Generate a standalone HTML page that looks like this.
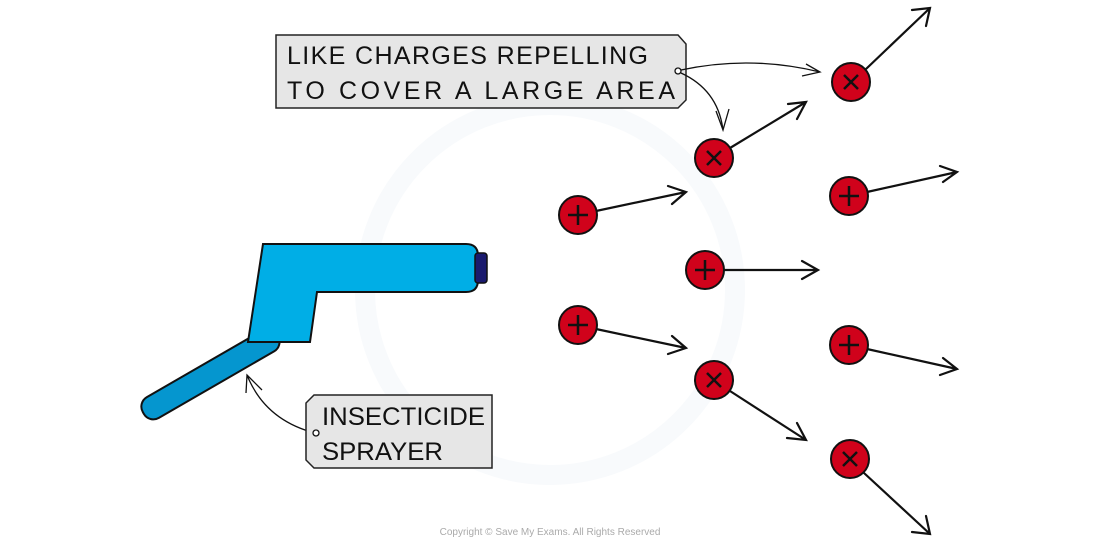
<!DOCTYPE html>
<html><head><meta charset="utf-8"><style>
html,body{margin:0;padding:0;background:#fff;}
svg{display:block;}
text{font-family:"Liberation Sans",sans-serif;}
</style></head><body>
<svg width="1100" height="542" viewBox="0 0 1100 542" xmlns="http://www.w3.org/2000/svg">
<defs>
<g id="pl"><circle r="19" fill="#d0021b" stroke="#111" stroke-width="2"/><path d="M-10 0H10M0 -10V10" stroke="#111" stroke-width="2.5"/></g>
<g id="cr"><circle r="19" fill="#d0021b" stroke="#111" stroke-width="2"/><path d="M-7 -7L7 7M7 -7L-7 7" stroke="#111" stroke-width="2.5"/></g>
</defs>
<!-- watermark -->
<circle cx="550" cy="290" r="185" fill="none" stroke="#f8fafc" stroke-width="20"/>
<!-- sprayer handle -->
<g transform="translate(152,408) rotate(-30)">
<rect x="-10" y="-12" width="155" height="24" rx="11" fill="#0596cf" stroke="#111" stroke-width="2"/>
</g>
<path d="M263 244 L466 244 Q478 244 478 256 L478 280 Q478 292 466 292 L317 292 L310 342 L248 342 Z" fill="#00aee6" stroke="#111" stroke-width="2"/>
<rect x="475" y="253" width="12" height="30" rx="3" fill="#1a1a6e" stroke="#111" stroke-width="1.5"/>
<!-- arrows -->
<g stroke="#111" stroke-width="2.2" fill="none" stroke-linecap="round">
<path d="M596 211 L686 192 M668 186 L686 192 L672 204"/>
<path d="M730 148 L806 102 M788 104 L806 102 L797 119"/>
<path d="M866 69 L930 8 M912 10 L930 8 L926 26"/>
<path d="M867 192 L957 172 M940 166 L957 172 L943 182"/>
<path d="M724 270 L818 270 M802 261 L818 270 L802 279"/>
<path d="M596 329 L686 348 M672 336 L686 348 L668 354"/>
<path d="M730 391 L806 440 M797 423 L806 440 L787 438"/>
<path d="M867 349 L957 369 M943 358 L957 369 L940 375"/>
<path d="M864 473 L930 534 M926 516 L930 534 L912 532"/>
</g>
<use href="#pl" x="578" y="215"/>
<use href="#cr" x="714" y="158"/>
<use href="#cr" x="851" y="82"/>
<use href="#pl" x="849" y="196"/>
<use href="#pl" x="705" y="270"/>
<use href="#pl" x="578" y="325"/>
<use href="#cr" x="714" y="380"/>
<use href="#pl" x="849" y="345"/>
<use href="#cr" x="850" y="459"/>
<!-- label 1 -->
<path d="M276 35 L678 35 L686 44 L686 100 L678 108 L276 108 Z" fill="#e6e6e6" stroke="#222" stroke-width="1.5"/>
<text x="287" y="64" font-size="25" textLength="361" lengthAdjust="spacing" fill="#111">LIKE CHARGES REPELLING</text>
<text x="287" y="99" font-size="25" textLength="388" lengthAdjust="spacing" fill="#111">TO COVER A LARGE AREA</text>
<circle cx="678" cy="71" r="3" fill="#fff" stroke="#111" stroke-width="1.3"/>
<g stroke="#111" stroke-width="1.3" fill="none">
<path d="M681 70 Q750 55 820 72 M802 76 L820 72 L806 64"/>
<path d="M681 73 Q718 90 723 130 M716 111 L723 130 L729 109"/>
<path d="M315 433 Q265 420 247 375 M246 393 L247 375 L262 390"/>
</g>
<!-- label 2 -->
<path d="M314 395 L492 395 L492 468 L314 468 L306 460 L306 403 Z" fill="#e6e6e6" stroke="#222" stroke-width="1.5"/>
<text x="322" y="425" font-size="25" textLength="163" lengthAdjust="spacingAndGlyphs" fill="#111">INSECTICIDE</text>
<text x="322" y="460" font-size="25" textLength="121" lengthAdjust="spacingAndGlyphs" fill="#111">SPRAYER</text>
<circle cx="316" cy="433" r="3" fill="#fff" stroke="#111" stroke-width="1.3"/>
<text x="550" y="535" font-size="10" fill="#aaa" text-anchor="middle">Copyright © Save My Exams. All Rights Reserved</text>
</svg>
</body></html>
